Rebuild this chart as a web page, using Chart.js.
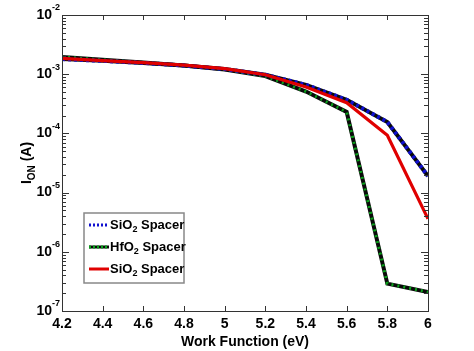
<!DOCTYPE html>
<html><head><meta charset="utf-8">
<script src="https://cdn.jsdelivr.net/npm/chart.js@4"></script>
<style>html,body{margin:0;padding:0;background:#fff}#wrap{width:474px;height:351px;position:relative}</style>
</head><body><div id="wrap"><canvas id="c" width="474" height="351"></canvas></div>
<script>
const workFunction = [4.2, 4.4, 4.6, 4.8, 5.0, 5.2, 5.4, 5.6, 5.8, 6.0];
const sio2Spacer  = [1.80e-3, 1.68e-3, 1.55e-3, 1.40e-3, 1.22e-3, 9.8e-4, 6.6e-4, 3.7e-4, 1.56e-4, 1.9e-5];
const hfo2Spacer  = [1.95e-3, 1.75e-3, 1.58e-3, 1.40e-3, 1.20e-3, 9.3e-4, 5.1e-4, 2.3e-4, 2.9e-7, 2.1e-7];
const sio2SpacerB = [1.85e-3, 1.70e-3, 1.57e-3, 1.42e-3, 1.24e-3, 9.8e-4, 6.1e-4, 3.3e-4, 9.3e-5, 3.6e-6];
const seriesLabels = ['SiO₂ Spacer', 'HfO₂ Spacer', 'SiO₂ Spacer'];
const xTickValues = [4.2, 4.4, 4.6, 4.8, 5.0, 5.2, 5.4, 5.6, 5.8, 6.0];
const xTickLabels = ['4.2', '4.4', '4.6', '4.8', '5', '5.2', '5.4', '5.6', '5.8', '6'];
const yDecadeExponents = [-7, -6, -5, -4, -3, -2];
const xTitle = 'Work Function (eV)';
const yTitleParts = ['I', 'ON', ' (A)'];

const FONT = '"Liberation Sans", Arial, sans-serif';
const BLUE = '#1010d0', GREEN = '#0aa01a', RED = '#e00000', BLK = '#0a0a0a';

const pts = arr => workFunction.map((x, i) => ({x, y: arr[i]}));

const ds = [
  {label: seriesLabels[2], data: pts(sio2SpacerB), borderColor: RED, borderWidth: 3.2, order: 1},
  {label: seriesLabels[0], data: pts(sio2Spacer), borderColor: BLUE, borderWidth: 4, borderDash: [3, 3], order: 2},
  {label: seriesLabels[1], data: pts(hfo2Spacer), borderColor: GREEN, borderWidth: 3, borderDash: [2, 4], order: 3},
  {label: '_u1', data: pts(sio2Spacer), borderColor: BLK, borderWidth: 4, order: 5},
  {label: '_u2', data: pts(hfo2Spacer), borderColor: BLK, borderWidth: 4, order: 6}
].map(d => Object.assign({pointRadius: 0, tension: 0, fill: false}, d));

const legendRows = [
  {label: seriesLabels[0], color: BLUE, dash: true},
  {label: seriesLabels[1], color: GREEN, dash: true, under: BLK},
  {label: seriesLabels[2], color: RED, dash: false}
];

function drawSubText(ctx, text, x, y, size) {
  const parts = text.split('₂');
  let cx = x;
  parts.forEach((p, i) => {
    ctx.font = 'bold ' + size + 'px ' + FONT;
    ctx.fillText(p, cx, y);
    cx += ctx.measureText(p).width;
    if (i < parts.length - 1) {
      ctx.font = 'bold ' + Math.round(size * 0.7) + 'px ' + FONT;
      ctx.fillText('2', cx, y + size * 0.35);
      cx += ctx.measureText('2').width;
    }
  });
}

const framePlugin = {
  id: 'frame',
  afterDraw(chart) {
    const {ctx, chartArea: a, scales} = chart;
    const xs = scales.x, ys = scales.y;
    ctx.save();
    ctx.strokeStyle = '#333';
    ctx.lineWidth = 1;
    ctx.strokeRect(a.left + 0.5, a.top + 0.5, a.right - a.left, a.bottom - a.top);
    ctx.beginPath();
    xTickValues.forEach(v => {
      const px = Math.round(xs.getPixelForValue(v)) + 0.5;
      ctx.moveTo(px, a.bottom); ctx.lineTo(px, a.bottom - 5);
      ctx.moveTo(px, a.top); ctx.lineTo(px, a.top + 5);
    });
    yDecadeExponents.forEach(e => {
      for (let m = 1; m <= 9; m++) {
        if (e === -2 && m > 1) break;
        const py = Math.round(ys.getPixelForValue(m * Math.pow(10, e))) + 0.5;
        const len = m === 1 ? 7 : 4;
        ctx.moveTo(a.left, py); ctx.lineTo(a.left + len, py);
        ctx.moveTo(a.right, py); ctx.lineTo(a.right - len, py);
      }
    });
    ctx.stroke();

    ctx.fillStyle = '#000';
    ctx.textBaseline = 'middle';
    yDecadeExponents.forEach(e => {
      const py = ys.getPixelForValue(Math.pow(10, e));
      const exp = String(e);
      ctx.font = 'bold 9px ' + FONT;
      const ew = ctx.measureText(exp).width;
      ctx.font = 'bold 14px ' + FONT;
      const bw = ctx.measureText('10').width;
      const right = a.left - 2;
      ctx.textAlign = 'left';
      ctx.fillText('10', right - ew - bw, py);
      ctx.font = 'bold 9px ' + FONT;
      ctx.fillText(exp, right - ew, py - 7);
    });

    ctx.save();
    ctx.translate(31, (a.top + a.bottom) / 2);
    ctx.rotate(-Math.PI / 2);
    ctx.textBaseline = 'alphabetic';
    ctx.font = 'bold 14px ' + FONT;
    const w0 = ctx.measureText(yTitleParts[0]).width;
    ctx.font = 'bold 10px ' + FONT;
    const w1 = ctx.measureText(yTitleParts[1]).width;
    ctx.font = 'bold 14px ' + FONT;
    const w2 = ctx.measureText(yTitleParts[2]).width;
    let sx = -(w0 + w1 + w2) / 2;
    ctx.fillText(yTitleParts[0], sx, 0); sx += w0;
    ctx.font = 'bold 10px ' + FONT;
    ctx.fillText(yTitleParts[1], sx, 4); sx += w1;
    ctx.font = 'bold 14px ' + FONT;
    ctx.fillText(yTitleParts[2], sx, 0);
    ctx.restore();

    const lx = a.left + 22, ly = a.bottom - 98, lw = 100, lh = 70;
    ctx.fillStyle = '#fff';
    ctx.fillRect(lx, ly, lw, lh);
    ctx.strokeStyle = '#888';
    ctx.lineWidth = 1.5;
    ctx.strokeRect(lx, ly, lw, lh);
    legendRows.forEach((r, i) => {
      const ry = ly + 12 + i * 22;
      ctx.setLineDash([]);
      if (r.under) {
        ctx.strokeStyle = r.under; ctx.lineWidth = 3;
        ctx.beginPath(); ctx.moveTo(lx + 5, ry); ctx.lineTo(lx + 25, ry); ctx.stroke();
      }
      ctx.strokeStyle = r.color; ctx.lineWidth = 3;
      if (r.dash) ctx.setLineDash([2, 2]);
      ctx.beginPath(); ctx.moveTo(lx + 5, ry); ctx.lineTo(lx + 25, ry); ctx.stroke();
      ctx.setLineDash([]);
      ctx.fillStyle = '#000';
      ctx.textAlign = 'left';
      ctx.textBaseline = 'middle';
      drawSubText(ctx, r.label, lx + 26, ry, 13);
    });
    ctx.restore();
  }
};

new Chart(document.getElementById('c'), {
  type: 'line',
  data: {datasets: ds},
  options: {
    responsive: false,
    animation: false,
    devicePixelRatio: 1,
    layout: {padding: {left: 0, right: 46, top: 15, bottom: 0}},
    plugins: {legend: {display: false}, tooltip: {enabled: false}},
    scales: {
      x: {
        type: 'linear', min: 4.2, max: 6.0,
        afterBuildTicks: s => { s.ticks = xTickValues.map(v => ({value: v})); },
        ticks: {
          autoSkip: false, maxRotation: 0, padding: 5, color: '#000',
          font: {family: FONT, size: 14, weight: 'bold'},
          callback: (v, i) => xTickLabels[i]
        },
        grid: {display: false, drawTicks: false},
        border: {display: false},
        title: {display: true, text: xTitle, color: '#000', padding: {top: 1, bottom: 0},
                font: {family: FONT, size: 14, weight: 'bold'}},
        afterFit: s => { s.height = 40; }
      },
      y: {
        type: 'logarithmic', min: 1e-7, max: 1e-2,
        ticks: {display: false},
        grid: {display: false, drawTicks: false},
        border: {display: false},
        afterFit: s => { s.width = 62; }
      }
    }
  },
  plugins: [framePlugin]
});
</script></body></html>
